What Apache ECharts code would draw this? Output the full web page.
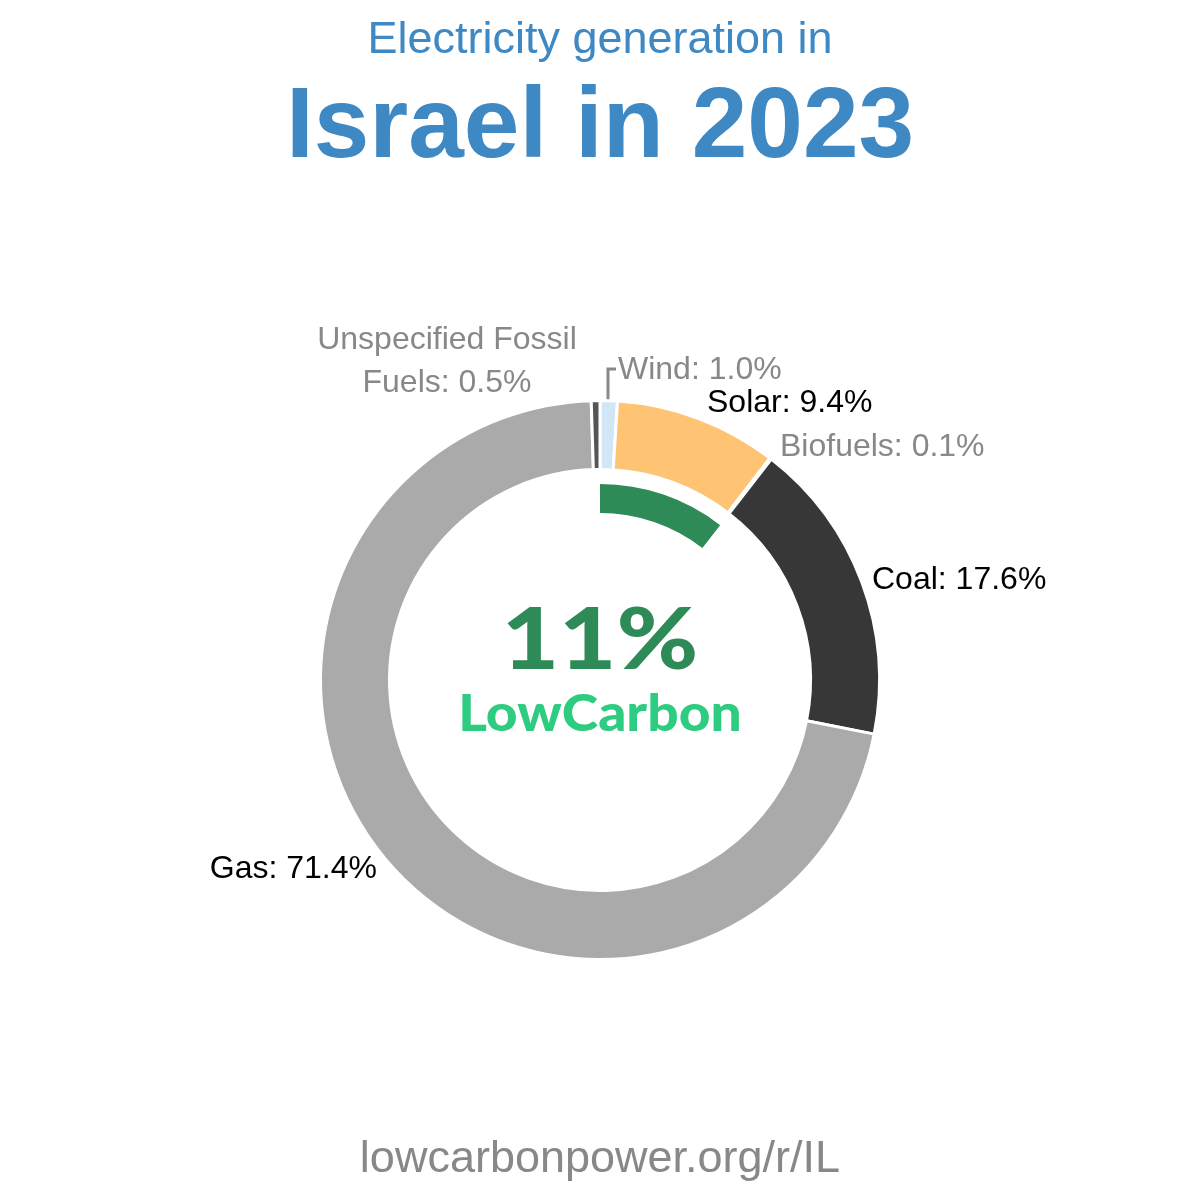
<!DOCTYPE html>
<html>
<head>
<meta charset="utf-8">
<title>Electricity generation in Israel in 2023</title>
<script src="https://cdn.jsdelivr.net/npm/echarts@6/dist/echarts.min.js"></script>
<style>
  html, body { margin: 0; padding: 0; background: #fff; }
  #main { width: 1200px; height: 1200px; }
</style>
</head>
<body>
<div id="main"></div>
<script>
// sources, clockwise from the top
var sources = ['Wind', 'Solar', 'Biofuels', 'Coal', 'Gas', 'Unspecified Fossil\nFuels'];
var shares = [1.0, 9.4, 0.1, 17.6, 71.4, 0.5];
var colors = ['#d1e6f7', '#fec473', '#2e8b57', '#373737', '#aaaaaa', '#555555'];
var labelColors = ['#888888', '#000000', '#888888', '#000000', '#000000', '#888888'];
// low carbon = wind + solar + biofuels
var lowCarbon = [1.0, 9.4, 0.1];

// label spots (x, y middle, align)
var labelSpots = [
    [618, 370, 'left'],
    [707, 403, 'left'],
    [780, 447, 'left'],
    [872, 580, 'left'],
    [377, 869, 'right'],
    [447, 362, 'center']
];

var lowTotal = lowCarbon.reduce(function (a, b) { return a + b; }, 0);
var allTotal = shares.reduce(function (a, b) { return a + b; }, 0);

var myChart = echarts.init(document.getElementById('main'));

var mainData = sources.map(function (name, i) {
    return {
        name: name,
        value: shares[i],
        itemStyle: {color: colors[i]},
        label: {color: labelColors[i]}
    };
});

// centred text helper, stretched a bit sideways where the original font is wider
function centerText(text, top, font, fill, sx) {
    return {
        type: 'text', x: 600, y: top, scaleX: sx || 1,
        style: {text: text, x: 0, y: 0, align: 'center', verticalAlign: 'top', font: font, fill: fill}
    };
}

myChart.setOption({
    animation: false,
    backgroundColor: '#ffffff',
    graphic: [
        centerText('Electricity generation in', 18, '45px "Liberation Sans", Arial, sans-serif', '#3e88c4'),
        centerText('Israel in 2023', 79, 'bold 100px "Liberation Sans", Arial, sans-serif', '#3e88c4'),
        centerText(Math.round(lowTotal) + '%', 598, '900 86px Lato, "Noto Sans", sans-serif', '#2e8b57', 1.15),
        centerText('LowCarbon', 688, '900 52px Lato, "Noto Sans", sans-serif', '#2ecc80', 1.06),
        centerText('lowcarbonpower.org/r/IL', 1137, '45px "Liberation Sans", Arial, sans-serif', '#888888'),
        {
            type: 'polyline',
            shape: {points: [[608, 401], [608, 369], [616, 369]]},
            style: {stroke: '#888888', lineWidth: 3, fill: null}
        }
    ],
    series: [
        {
            type: 'pie',
            center: [600, 680],
            radius: [210.5, 279.5],
            startAngle: 90,
            clockwise: true,
            avoidLabelOverlap: false,
            silent: true,
            itemStyle: {borderColor: '#ffffff', borderWidth: 3},
            label: {
                show: true,
                position: 'outside',
                fontFamily: '"Liberation Sans", Arial, sans-serif',
                fontSize: 32,
                lineHeight: 43,
                formatter: function (p) {
                    return p.name + ': ' + p.value.toFixed(1) + '%';
                }
            },
            labelLine: {show: false},
            labelLayout: function (params) {
                var s = labelSpots[params.dataIndex];
                return {x: s[0], y: s[1], align: s[2], verticalAlign: 'middle'};
            },
            emphasis: {disabled: true},
            data: mainData
        },
        {
            type: 'pie',
            center: [600, 680],
            radius: [167, 196],
            startAngle: 90,
            clockwise: true,
            silent: true,
            label: {show: false},
            labelLine: {show: false},
            emphasis: {disabled: true},
            data: [
                {name: 'Low carbon', value: lowTotal, itemStyle: {color: '#2e8b57'}},
                {name: 'Other', value: allTotal - lowTotal, itemStyle: {color: 'rgba(0,0,0,0)'}}
            ]
        }
    ]
});
</script>
</body>
</html>
